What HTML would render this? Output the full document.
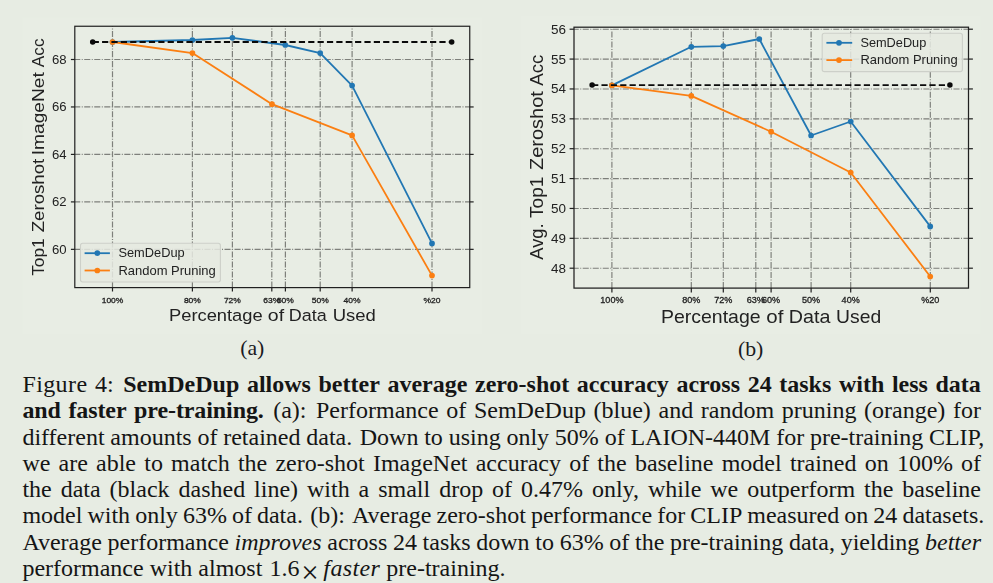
<!DOCTYPE html>
<html><head><meta charset="utf-8"><title>Figure 4</title>
<style>
html,body{margin:0;padding:0}
body{width:993px;height:583px;overflow:hidden;background:#e7ece3;position:relative;font-family:"Liberation Serif",serif;color:#151515}
svg{position:absolute;left:0;top:0;will-change:transform}
svg text{font-family:"Liberation Sans",sans-serif;fill:#222222}
.cl{position:absolute;left:22.4px;height:40px;line-height:40px;font-size:24.0px;white-space:nowrap;font-family:"Liberation Serif",serif}
.s{display:inline-block;height:1px}
.tm{font-size:31px;margin-left:1.8px;margin-right:-1.45px;position:relative;top:6.6px;line-height:0}
.sub{position:absolute;height:26px;line-height:26px;font-size:21.8px;width:60px;text-align:center;font-family:"Liberation Serif",serif;color:#1b1b1f}
</style></head><body>
<div class="sub" style="left:222.25px;top:334.84px">(a)</div>
<div class="sub" style="left:720.6px;top:335.84px">(b)</div>
<div class="cl" style="top:363.95px"><span style="letter-spacing:0.4px">Figure</span><span class="s" style="width:7.64px"></span>4:<span class="s" style="width:9.49px"></span><b>SemDeDup</b><span class="s" style="width:7.64px"></span><b>allows</b><span class="s" style="width:7.64px"></span><b>better</b><span class="s" style="width:7.64px"></span><b>average</b><span class="s" style="width:7.64px"></span><b>zero-shot</b><span class="s" style="width:7.64px"></span><b>accuracy</b><span class="s" style="width:7.64px"></span><b>across</b><span class="s" style="width:7.64px"></span><b>24</b><span class="s" style="width:7.64px"></span><b>tasks</b><span class="s" style="width:7.64px"></span><b>with</b><span class="s" style="width:7.64px"></span><b>less</b><span class="s" style="width:7.64px"></span><b>data</b></div>
<div class="cl" style="top:390.25px"><b style="letter-spacing:-0.1px">and</b><span class="s" style="width:7.65px"></span><b style="letter-spacing:-0.1px">faster</b><span class="s" style="width:7.65px"></span><b style="letter-spacing:-0.1px">pre-training.</b><span class="s" style="width:9.50px"></span>(a):<span class="s" style="width:9.50px"></span>Performance<span class="s" style="width:7.65px"></span>of<span class="s" style="width:7.65px"></span>SemDeDup<span class="s" style="width:7.65px"></span>(blue)<span class="s" style="width:7.65px"></span>and<span class="s" style="width:7.65px"></span>random<span class="s" style="width:7.65px"></span>pruning<span class="s" style="width:7.65px"></span>(orange)<span class="s" style="width:7.65px"></span>for</div>
<div class="cl" style="top:416.55px">different<span class="s" style="width:5.77px"></span>amounts<span class="s" style="width:5.77px"></span>of<span class="s" style="width:5.77px"></span>retained<span class="s" style="width:5.77px"></span>data.<span class="s" style="width:7.52px"></span>Down<span class="s" style="width:5.77px"></span>to<span class="s" style="width:5.77px"></span>using<span class="s" style="width:5.77px"></span>only<span class="s" style="width:5.77px"></span>50%<span class="s" style="width:5.77px"></span>of<span class="s" style="width:5.77px"></span>LAION-440M<span class="s" style="width:5.77px"></span>for<span class="s" style="width:5.77px"></span>pre-training<span class="s" style="width:5.77px"></span>CLIP,</div>
<div class="cl" style="top:442.85px">we<span class="s" style="width:8.19px"></span>are<span class="s" style="width:8.19px"></span>able<span class="s" style="width:8.19px"></span>to<span class="s" style="width:8.19px"></span>match<span class="s" style="width:8.19px"></span>the<span class="s" style="width:8.19px"></span>zero-shot<span class="s" style="width:8.19px"></span>ImageNet<span class="s" style="width:8.19px"></span>accuracy<span class="s" style="width:8.19px"></span>of<span class="s" style="width:8.19px"></span>the<span class="s" style="width:8.19px"></span>baseline<span class="s" style="width:8.19px"></span>model<span class="s" style="width:8.19px"></span>trained<span class="s" style="width:8.19px"></span>on<span class="s" style="width:8.19px"></span>100%<span class="s" style="width:8.19px"></span>of</div>
<div class="cl" style="top:469.15px">the<span class="s" style="width:8.94px"></span>data<span class="s" style="width:8.94px"></span>(black<span class="s" style="width:8.94px"></span>dashed<span class="s" style="width:8.94px"></span>line)<span class="s" style="width:8.94px"></span>with<span class="s" style="width:8.94px"></span>a<span class="s" style="width:8.94px"></span>small<span class="s" style="width:8.94px"></span>drop<span class="s" style="width:8.94px"></span>of<span class="s" style="width:8.94px"></span>0.47%<span class="s" style="width:8.94px"></span>only,<span class="s" style="width:8.94px"></span>while<span class="s" style="width:8.94px"></span>we<span class="s" style="width:8.94px"></span>outperform<span class="s" style="width:8.94px"></span>the<span class="s" style="width:8.94px"></span>baseline</div>
<div class="cl" style="top:495.45px">model<span class="s" style="width:5.05px"></span>with<span class="s" style="width:5.05px"></span>only<span class="s" style="width:5.05px"></span>63%<span class="s" style="width:5.05px"></span>of<span class="s" style="width:5.05px"></span>data.<span class="s" style="width:7.28px"></span>(b):<span class="s" style="width:7.12px"></span>Average<span class="s" style="width:5.05px"></span>zero-shot<span class="s" style="width:5.05px"></span>performance<span class="s" style="width:5.05px"></span>for<span class="s" style="width:5.05px"></span>CLIP<span class="s" style="width:5.05px"></span>measured<span class="s" style="width:5.05px"></span>on<span class="s" style="width:5.05px"></span>24<span class="s" style="width:5.05px"></span>datasets.</div>
<div class="cl" style="top:521.75px">Average<span class="s" style="width:5.68px"></span>performance<span class="s" style="width:5.68px"></span><i>improves</i><span class="s" style="width:5.68px"></span>across<span class="s" style="width:5.68px"></span>24<span class="s" style="width:5.68px"></span>tasks<span class="s" style="width:5.68px"></span>down<span class="s" style="width:5.68px"></span>to<span class="s" style="width:5.68px"></span>63%<span class="s" style="width:5.68px"></span>of<span class="s" style="width:5.68px"></span>the<span class="s" style="width:5.68px"></span>pre-training<span class="s" style="width:5.68px"></span>data,<span class="s" style="width:5.74px"></span>yielding<span class="s" style="width:5.68px"></span><i>better</i></div>
<div class="cl" style="top:548.05px">performance<span class="s" style="width:6.00px"></span>with<span class="s" style="width:6.00px"></span>almost<span class="s" style="width:7.20px"></span>1.6<span class="tm">×</span><span class="s" style="width:6.00px"></span><i style="letter-spacing:0.38px">faster</i><span class="s" style="width:6.00px"></span>pre-training.</div>
<svg width="993" height="334" viewBox="0 0 993 334">
<rect x="22.5" y="17.5" width="459.5" height="316.5" fill="#e8ede4"/>
<rect x="521" y="16" width="459.5" height="318" fill="#e8ede4"/>
<g>
<line x1="74.8" y1="59.5" x2="469.75" y2="59.5" stroke="#7e807b" stroke-width="1.2" stroke-dasharray="6.05 1.49 0.99 1.49" stroke-dashoffset="0.6"/>
<line x1="74.8" y1="106.95" x2="469.75" y2="106.95" stroke="#7e807b" stroke-width="1.2" stroke-dasharray="6.05 1.49 0.99 1.49" stroke-dashoffset="0.6"/>
<line x1="74.8" y1="154.4" x2="469.75" y2="154.4" stroke="#7e807b" stroke-width="1.2" stroke-dasharray="6.05 1.49 0.99 1.49" stroke-dashoffset="0.6"/>
<line x1="74.8" y1="201.9" x2="469.75" y2="201.9" stroke="#7e807b" stroke-width="1.2" stroke-dasharray="6.05 1.49 0.99 1.49" stroke-dashoffset="0.6"/>
<line x1="74.8" y1="249.35" x2="469.75" y2="249.35" stroke="#7e807b" stroke-width="1.2" stroke-dasharray="6.05 1.49 0.99 1.49" stroke-dashoffset="0.6"/>
<line x1="112.5" y1="287.6" x2="112.5" y2="26.25" stroke="#7e807b" stroke-width="1.2" stroke-dasharray="6.05 1.49 0.99 1.49"/>
<line x1="192.4" y1="287.6" x2="192.4" y2="26.25" stroke="#7e807b" stroke-width="1.2" stroke-dasharray="6.05 1.49 0.99 1.49"/>
<line x1="232.4" y1="287.6" x2="232.4" y2="26.25" stroke="#7e807b" stroke-width="1.2" stroke-dasharray="6.05 1.49 0.99 1.49"/>
<line x1="271.8" y1="287.6" x2="271.8" y2="26.25" stroke="#7e807b" stroke-width="1.2" stroke-dasharray="6.05 1.49 0.99 1.49"/>
<line x1="285.4" y1="287.6" x2="285.4" y2="26.25" stroke="#7e807b" stroke-width="1.2" stroke-dasharray="6.05 1.49 0.99 1.49"/>
<line x1="320.2" y1="287.6" x2="320.2" y2="26.25" stroke="#7e807b" stroke-width="1.2" stroke-dasharray="6.05 1.49 0.99 1.49"/>
<line x1="352.1" y1="287.6" x2="352.1" y2="26.25" stroke="#7e807b" stroke-width="1.2" stroke-dasharray="6.05 1.49 0.99 1.49"/>
<line x1="432" y1="287.6" x2="432" y2="26.25" stroke="#7e807b" stroke-width="1.2" stroke-dasharray="6.05 1.49 0.99 1.49"/>
<line x1="70.9" y1="59.5" x2="74.8" y2="59.5" stroke="#202020" stroke-width="1.2"/>
<line x1="469.75" y1="59.5" x2="473.65" y2="59.5" stroke="#202020" stroke-width="1.2"/>
<line x1="70.9" y1="106.95" x2="74.8" y2="106.95" stroke="#202020" stroke-width="1.2"/>
<line x1="469.75" y1="106.95" x2="473.65" y2="106.95" stroke="#202020" stroke-width="1.2"/>
<line x1="70.9" y1="154.4" x2="74.8" y2="154.4" stroke="#202020" stroke-width="1.2"/>
<line x1="469.75" y1="154.4" x2="473.65" y2="154.4" stroke="#202020" stroke-width="1.2"/>
<line x1="70.9" y1="201.9" x2="74.8" y2="201.9" stroke="#202020" stroke-width="1.2"/>
<line x1="469.75" y1="201.9" x2="473.65" y2="201.9" stroke="#202020" stroke-width="1.2"/>
<line x1="70.9" y1="249.35" x2="74.8" y2="249.35" stroke="#202020" stroke-width="1.2"/>
<line x1="469.75" y1="249.35" x2="473.65" y2="249.35" stroke="#202020" stroke-width="1.2"/>
<line x1="112.5" y1="287.6" x2="112.5" y2="291.5" stroke="#202020" stroke-width="1.2"/>
<line x1="192.4" y1="287.6" x2="192.4" y2="291.5" stroke="#202020" stroke-width="1.2"/>
<line x1="232.4" y1="287.6" x2="232.4" y2="291.5" stroke="#202020" stroke-width="1.2"/>
<line x1="271.8" y1="287.6" x2="271.8" y2="291.5" stroke="#202020" stroke-width="1.2"/>
<line x1="285.4" y1="287.6" x2="285.4" y2="291.5" stroke="#202020" stroke-width="1.2"/>
<line x1="320.2" y1="287.6" x2="320.2" y2="291.5" stroke="#202020" stroke-width="1.2"/>
<line x1="352.1" y1="287.6" x2="352.1" y2="291.5" stroke="#202020" stroke-width="1.2"/>
<line x1="432" y1="287.6" x2="432" y2="291.5" stroke="#202020" stroke-width="1.2"/>
<polyline points="112.5,42 192.4,40 232.4,37.8 285.3,45 320.2,53.1 352.1,85.6 432,243.4" fill="none" stroke="#2277b3" stroke-width="1.8" stroke-linejoin="round" stroke-linecap="butt"/>
<circle cx="112.5" cy="42" r="2.85" fill="#2277b3"/>
<circle cx="192.4" cy="40" r="2.85" fill="#2277b3"/>
<circle cx="232.4" cy="37.8" r="2.85" fill="#2277b3"/>
<circle cx="285.3" cy="45" r="2.85" fill="#2277b3"/>
<circle cx="320.2" cy="53.1" r="2.85" fill="#2277b3"/>
<circle cx="352.1" cy="85.6" r="2.85" fill="#2277b3"/>
<circle cx="432" cy="243.4" r="2.85" fill="#2277b3"/>
<polyline points="112.5,42 192.4,53.1 272,104.2 352.1,135.4 432,275.6" fill="none" stroke="#fb7f12" stroke-width="1.8" stroke-linejoin="round" stroke-linecap="butt"/>
<circle cx="112.5" cy="42" r="2.85" fill="#fb7f12"/>
<circle cx="192.4" cy="53.1" r="2.85" fill="#fb7f12"/>
<circle cx="272" cy="104.2" r="2.85" fill="#fb7f12"/>
<circle cx="352.1" cy="135.4" r="2.85" fill="#fb7f12"/>
<circle cx="432" cy="275.6" r="2.85" fill="#fb7f12"/>
<line x1="92.7" y1="42" x2="451.7" y2="42" stroke="#0a0a0a" stroke-width="1.9" stroke-dasharray="6.2 3.17"/>
<circle cx="92.7" cy="42" r="2.75" fill="#0a0a0a"/>
<circle cx="451.7" cy="42" r="2.75" fill="#0a0a0a"/>
<rect x="74.8" y="26.25" width="394.95" height="261.35" fill="none" stroke="#202020" stroke-width="1.2"/>
<text x="66.6" y="63.8" font-size="11.9" text-anchor="end" textLength="14.6" lengthAdjust="spacingAndGlyphs">68</text>
<text x="66.6" y="111.25" font-size="11.9" text-anchor="end" textLength="14.6" lengthAdjust="spacingAndGlyphs">66</text>
<text x="66.6" y="158.7" font-size="11.9" text-anchor="end" textLength="14.6" lengthAdjust="spacingAndGlyphs">64</text>
<text x="66.6" y="206.2" font-size="11.9" text-anchor="end" textLength="14.6" lengthAdjust="spacingAndGlyphs">62</text>
<text x="66.6" y="253.65" font-size="11.9" text-anchor="end" textLength="14.6" lengthAdjust="spacingAndGlyphs">60</text>
<text x="112.5" y="302.6" font-size="7.9" text-anchor="middle" textLength="21.6" lengthAdjust="spacingAndGlyphs" stroke="#222222" stroke-width="0.3">100%</text>
<text x="192.4" y="302.6" font-size="7.9" text-anchor="middle" textLength="17" lengthAdjust="spacingAndGlyphs" stroke="#222222" stroke-width="0.3">80%</text>
<text x="232.4" y="302.6" font-size="7.9" text-anchor="middle" textLength="17" lengthAdjust="spacingAndGlyphs" stroke="#222222" stroke-width="0.3">72%</text>
<text x="271.8" y="302.6" font-size="7.9" text-anchor="middle" textLength="17" lengthAdjust="spacingAndGlyphs" stroke="#222222" stroke-width="0.3">63%</text>
<text x="285.4" y="302.6" font-size="7.9" text-anchor="middle" textLength="17" lengthAdjust="spacingAndGlyphs" stroke="#222222" stroke-width="0.3">60%</text>
<text x="320.2" y="302.6" font-size="7.9" text-anchor="middle" textLength="17" lengthAdjust="spacingAndGlyphs" stroke="#222222" stroke-width="0.3">50%</text>
<text x="352.1" y="302.6" font-size="7.9" text-anchor="middle" textLength="17" lengthAdjust="spacingAndGlyphs" stroke="#222222" stroke-width="0.3">40%</text>
<text x="432" y="302.6" font-size="7.9" text-anchor="middle" textLength="17" lengthAdjust="spacingAndGlyphs" stroke="#222222" stroke-width="0.3">%20</text>
<text x="168.97" y="321" font-size="16.8" textLength="93.73" lengthAdjust="spacingAndGlyphs">Percentage</text>
<text x="267.80" y="321" font-size="16.8" textLength="16.26" lengthAdjust="spacingAndGlyphs">of</text>
<text x="288.72" y="321" font-size="16.8" textLength="37.99" lengthAdjust="spacingAndGlyphs">Data</text>
<text x="332.72" y="321" font-size="16.8" textLength="43.12" lengthAdjust="spacingAndGlyphs">Used</text>
<text transform="translate(43.9 275.85) rotate(-90)" font-size="16.8" textLength="37.48" lengthAdjust="spacingAndGlyphs">Top1</text>
<text transform="translate(43.9 232.31) rotate(-90)" font-size="16.8" textLength="73.58" lengthAdjust="spacingAndGlyphs">Zeroshot</text>
<text transform="translate(43.9 155.31) rotate(-90)" font-size="16.8" textLength="83.11" lengthAdjust="spacingAndGlyphs">ImageNet</text>
<text transform="translate(43.9 67.19) rotate(-90)" font-size="16.8" textLength="28.73" lengthAdjust="spacingAndGlyphs">Acc</text>
<rect x="80.5" y="243.2" width="139.9" height="38.8" rx="2.2" fill="#e5e9e1" fill-opacity="0.86" stroke="#cdd0c9" stroke-width="1.1"/>
<line x1="84.6" y1="253.2" x2="109.9" y2="253.2" stroke="#2277b3" stroke-width="1.8"/>
<circle cx="97.3" cy="253.2" r="2.85" fill="#2277b3"/>
<line x1="84.6" y1="270.5" x2="109.9" y2="270.5" stroke="#fb7f12" stroke-width="1.8"/>
<circle cx="97.3" cy="270.5" r="2.85" fill="#fb7f12"/>
<text x="118.4" y="257.4" font-size="11.9" textLength="66.3" lengthAdjust="spacingAndGlyphs">SemDeDup</text>
<text x="118.4" y="274.6" font-size="11.9" textLength="97.4" lengthAdjust="spacingAndGlyphs">Random Pruning</text>
</g>
<g>
<line x1="574" y1="29.2" x2="968.5" y2="29.2" stroke="#7c7e79" stroke-width="1.15" stroke-dasharray="6.05 1.49 0.99 1.49" stroke-dashoffset="1.3"/>
<line x1="574" y1="59.08" x2="968.5" y2="59.08" stroke="#7c7e79" stroke-width="1.15" stroke-dasharray="6.05 1.49 0.99 1.49" stroke-dashoffset="1.3"/>
<line x1="574" y1="88.95" x2="968.5" y2="88.95" stroke="#7c7e79" stroke-width="1.15" stroke-dasharray="6.05 1.49 0.99 1.49" stroke-dashoffset="1.3"/>
<line x1="574" y1="118.83" x2="968.5" y2="118.83" stroke="#7c7e79" stroke-width="1.15" stroke-dasharray="6.05 1.49 0.99 1.49" stroke-dashoffset="1.3"/>
<line x1="574" y1="148.7" x2="968.5" y2="148.7" stroke="#7c7e79" stroke-width="1.15" stroke-dasharray="6.05 1.49 0.99 1.49" stroke-dashoffset="1.3"/>
<line x1="574" y1="178.57" x2="968.5" y2="178.57" stroke="#7c7e79" stroke-width="1.15" stroke-dasharray="6.05 1.49 0.99 1.49" stroke-dashoffset="1.3"/>
<line x1="574" y1="208.45" x2="968.5" y2="208.45" stroke="#7c7e79" stroke-width="1.15" stroke-dasharray="6.05 1.49 0.99 1.49" stroke-dashoffset="1.3"/>
<line x1="574" y1="238.32" x2="968.5" y2="238.32" stroke="#7c7e79" stroke-width="1.15" stroke-dasharray="6.05 1.49 0.99 1.49" stroke-dashoffset="1.3"/>
<line x1="574" y1="268.2" x2="968.5" y2="268.2" stroke="#7c7e79" stroke-width="1.15" stroke-dasharray="6.05 1.49 0.99 1.49" stroke-dashoffset="1.3"/>
<line x1="611.9" y1="288.1" x2="611.9" y2="27.2" stroke="#7c7e79" stroke-width="1.15" stroke-dasharray="6.05 1.49 0.99 1.49"/>
<line x1="691.3" y1="288.1" x2="691.3" y2="27.2" stroke="#7c7e79" stroke-width="1.15" stroke-dasharray="6.05 1.49 0.99 1.49"/>
<line x1="723.3" y1="288.1" x2="723.3" y2="27.2" stroke="#7c7e79" stroke-width="1.15" stroke-dasharray="6.05 1.49 0.99 1.49"/>
<line x1="755.8" y1="288.1" x2="755.8" y2="27.2" stroke="#7c7e79" stroke-width="1.15" stroke-dasharray="6.05 1.49 0.99 1.49"/>
<line x1="771.1" y1="288.1" x2="771.1" y2="27.2" stroke="#7c7e79" stroke-width="1.15" stroke-dasharray="6.05 1.49 0.99 1.49"/>
<line x1="811.1" y1="288.1" x2="811.1" y2="27.2" stroke="#7c7e79" stroke-width="1.15" stroke-dasharray="6.05 1.49 0.99 1.49"/>
<line x1="850.7" y1="288.1" x2="850.7" y2="27.2" stroke="#7c7e79" stroke-width="1.15" stroke-dasharray="6.05 1.49 0.99 1.49"/>
<line x1="930.3" y1="288.1" x2="930.3" y2="27.2" stroke="#7c7e79" stroke-width="1.15" stroke-dasharray="6.05 1.49 0.99 1.49"/>
<line x1="569.6" y1="29.2" x2="574" y2="29.2" stroke="#202020" stroke-width="1.2"/>
<line x1="968.5" y1="29.2" x2="972.9" y2="29.2" stroke="#202020" stroke-width="1.2"/>
<line x1="569.6" y1="59.08" x2="574" y2="59.08" stroke="#202020" stroke-width="1.2"/>
<line x1="968.5" y1="59.08" x2="972.9" y2="59.08" stroke="#202020" stroke-width="1.2"/>
<line x1="569.6" y1="88.95" x2="574" y2="88.95" stroke="#202020" stroke-width="1.2"/>
<line x1="968.5" y1="88.95" x2="972.9" y2="88.95" stroke="#202020" stroke-width="1.2"/>
<line x1="569.6" y1="118.83" x2="574" y2="118.83" stroke="#202020" stroke-width="1.2"/>
<line x1="968.5" y1="118.83" x2="972.9" y2="118.83" stroke="#202020" stroke-width="1.2"/>
<line x1="569.6" y1="148.7" x2="574" y2="148.7" stroke="#202020" stroke-width="1.2"/>
<line x1="968.5" y1="148.7" x2="972.9" y2="148.7" stroke="#202020" stroke-width="1.2"/>
<line x1="569.6" y1="178.57" x2="574" y2="178.57" stroke="#202020" stroke-width="1.2"/>
<line x1="968.5" y1="178.57" x2="972.9" y2="178.57" stroke="#202020" stroke-width="1.2"/>
<line x1="569.6" y1="208.45" x2="574" y2="208.45" stroke="#202020" stroke-width="1.2"/>
<line x1="968.5" y1="208.45" x2="972.9" y2="208.45" stroke="#202020" stroke-width="1.2"/>
<line x1="569.6" y1="238.32" x2="574" y2="238.32" stroke="#202020" stroke-width="1.2"/>
<line x1="968.5" y1="238.32" x2="972.9" y2="238.32" stroke="#202020" stroke-width="1.2"/>
<line x1="569.6" y1="268.2" x2="574" y2="268.2" stroke="#202020" stroke-width="1.2"/>
<line x1="968.5" y1="268.2" x2="972.9" y2="268.2" stroke="#202020" stroke-width="1.2"/>
<line x1="611.9" y1="288.1" x2="611.9" y2="292.5" stroke="#202020" stroke-width="1.2"/>
<line x1="691.3" y1="288.1" x2="691.3" y2="292.5" stroke="#202020" stroke-width="1.2"/>
<line x1="723.3" y1="288.1" x2="723.3" y2="292.5" stroke="#202020" stroke-width="1.2"/>
<line x1="755.8" y1="288.1" x2="755.8" y2="292.5" stroke="#202020" stroke-width="1.2"/>
<line x1="771.1" y1="288.1" x2="771.1" y2="292.5" stroke="#202020" stroke-width="1.2"/>
<line x1="811.1" y1="288.1" x2="811.1" y2="292.5" stroke="#202020" stroke-width="1.2"/>
<line x1="850.7" y1="288.1" x2="850.7" y2="292.5" stroke="#202020" stroke-width="1.2"/>
<line x1="930.3" y1="288.1" x2="930.3" y2="292.5" stroke="#202020" stroke-width="1.2"/>
<polyline points="611.9,85.4 691.3,46.8 723.3,46.1 759.3,39 811.1,135.5 850.7,121.5 930.2,226.4" fill="none" stroke="#2277b3" stroke-width="1.8" stroke-linejoin="round" stroke-linecap="butt"/>
<circle cx="611.9" cy="85.4" r="2.85" fill="#2277b3"/>
<circle cx="691.3" cy="46.8" r="2.85" fill="#2277b3"/>
<circle cx="723.3" cy="46.1" r="2.85" fill="#2277b3"/>
<circle cx="759.3" cy="39" r="2.85" fill="#2277b3"/>
<circle cx="811.1" cy="135.5" r="2.85" fill="#2277b3"/>
<circle cx="850.7" cy="121.5" r="2.85" fill="#2277b3"/>
<circle cx="930.2" cy="226.4" r="2.85" fill="#2277b3"/>
<polyline points="611.9,85.4 691.3,95.9 771.1,131.7 850.7,172.5 930.2,276.5" fill="none" stroke="#fb7f12" stroke-width="1.8" stroke-linejoin="round" stroke-linecap="butt"/>
<circle cx="611.9" cy="85.4" r="2.85" fill="#fb7f12"/>
<circle cx="691.3" cy="95.9" r="2.85" fill="#fb7f12"/>
<circle cx="771.1" cy="131.7" r="2.85" fill="#fb7f12"/>
<circle cx="850.7" cy="172.5" r="2.85" fill="#fb7f12"/>
<circle cx="930.2" cy="276.5" r="2.85" fill="#fb7f12"/>
<line x1="592.1" y1="85.1" x2="949.9" y2="85.1" stroke="#0a0a0a" stroke-width="1.9" stroke-dasharray="6.2 3.17"/>
<circle cx="592.1" cy="85.1" r="2.75" fill="#0a0a0a"/>
<circle cx="949.9" cy="85.1" r="2.75" fill="#0a0a0a"/>
<rect x="574" y="27.2" width="394.5" height="260.9" fill="none" stroke="#202020" stroke-width="1.25"/>
<text x="566.1" y="33.65" font-size="12.3" text-anchor="end" textLength="15.0" lengthAdjust="spacingAndGlyphs">56</text>
<text x="566.1" y="63.53" font-size="12.3" text-anchor="end" textLength="15.0" lengthAdjust="spacingAndGlyphs">55</text>
<text x="566.1" y="93.4" font-size="12.3" text-anchor="end" textLength="15.0" lengthAdjust="spacingAndGlyphs">54</text>
<text x="566.1" y="123.28" font-size="12.3" text-anchor="end" textLength="15.0" lengthAdjust="spacingAndGlyphs">53</text>
<text x="566.1" y="153.15" font-size="12.3" text-anchor="end" textLength="15.0" lengthAdjust="spacingAndGlyphs">52</text>
<text x="566.1" y="183.02" font-size="12.3" text-anchor="end" textLength="15.0" lengthAdjust="spacingAndGlyphs">51</text>
<text x="566.1" y="212.9" font-size="12.3" text-anchor="end" textLength="15.0" lengthAdjust="spacingAndGlyphs">50</text>
<text x="566.1" y="242.77" font-size="12.3" text-anchor="end" textLength="15.0" lengthAdjust="spacingAndGlyphs">49</text>
<text x="566.1" y="272.65" font-size="12.3" text-anchor="end" textLength="15.0" lengthAdjust="spacingAndGlyphs">48</text>
<text x="611.9" y="303.1" font-size="8.8" text-anchor="middle" textLength="23.2" lengthAdjust="spacingAndGlyphs" stroke="#222222" stroke-width="0.3">100%</text>
<text x="691.3" y="303.1" font-size="8.8" text-anchor="middle" textLength="18.2" lengthAdjust="spacingAndGlyphs" stroke="#222222" stroke-width="0.3">80%</text>
<text x="723.3" y="303.1" font-size="8.8" text-anchor="middle" textLength="18.2" lengthAdjust="spacingAndGlyphs" stroke="#222222" stroke-width="0.3">72%</text>
<text x="755.8" y="303.1" font-size="8.8" text-anchor="middle" textLength="18.2" lengthAdjust="spacingAndGlyphs" stroke="#222222" stroke-width="0.3">63%</text>
<text x="771.1" y="303.1" font-size="8.8" text-anchor="middle" textLength="18.2" lengthAdjust="spacingAndGlyphs" stroke="#222222" stroke-width="0.3">60%</text>
<text x="811.1" y="303.1" font-size="8.8" text-anchor="middle" textLength="18.2" lengthAdjust="spacingAndGlyphs" stroke="#222222" stroke-width="0.3">50%</text>
<text x="850.7" y="303.1" font-size="8.8" text-anchor="middle" textLength="18.2" lengthAdjust="spacingAndGlyphs" stroke="#222222" stroke-width="0.3">40%</text>
<text x="930.3" y="303.1" font-size="8.8" text-anchor="middle" textLength="18.2" lengthAdjust="spacingAndGlyphs" stroke="#222222" stroke-width="0.3">%20</text>
<text x="660.99" y="322.5" font-size="17.9" textLength="99.65" lengthAdjust="spacingAndGlyphs">Percentage</text>
<text x="766.39" y="322.5" font-size="17.9" textLength="17.06" lengthAdjust="spacingAndGlyphs">of</text>
<text x="788.82" y="322.5" font-size="17.9" textLength="41.59" lengthAdjust="spacingAndGlyphs">Data</text>
<text x="836.12" y="322.5" font-size="17.9" textLength="45.05" lengthAdjust="spacingAndGlyphs">Used</text>
<text transform="translate(542.8 259.65) rotate(-90)" font-size="17.9" textLength="36.25" lengthAdjust="spacingAndGlyphs">Avg.</text>
<text transform="translate(542.8 218.05) rotate(-90)" font-size="17.9" textLength="41.44" lengthAdjust="spacingAndGlyphs">Top1</text>
<text transform="translate(542.8 169.90) rotate(-90)" font-size="17.9" textLength="78.67" lengthAdjust="spacingAndGlyphs">Zeroshot</text>
<text transform="translate(542.8 85.81) rotate(-90)" font-size="17.9" textLength="31.15" lengthAdjust="spacingAndGlyphs">Acc</text>
<rect x="822.2" y="33.3" width="140.2" height="38.3" rx="2.2" fill="#e5e9e1" fill-opacity="0.86" stroke="#cdd0c9" stroke-width="1.1"/>
<line x1="826.4" y1="42.8" x2="852.2" y2="42.8" stroke="#2277b3" stroke-width="1.8"/>
<circle cx="839" cy="42.8" r="2.85" fill="#2277b3"/>
<line x1="826.4" y1="60.1" x2="852.2" y2="60.1" stroke="#fb7f12" stroke-width="1.8"/>
<circle cx="839" cy="60.1" r="2.85" fill="#fb7f12"/>
<text x="860.4" y="46.9" font-size="11.9" textLength="65.9" lengthAdjust="spacingAndGlyphs">SemDeDup</text>
<text x="860.4" y="64.2" font-size="11.9" textLength="97.2" lengthAdjust="spacingAndGlyphs">Random Pruning</text>
</g>
</svg>
</body></html>
